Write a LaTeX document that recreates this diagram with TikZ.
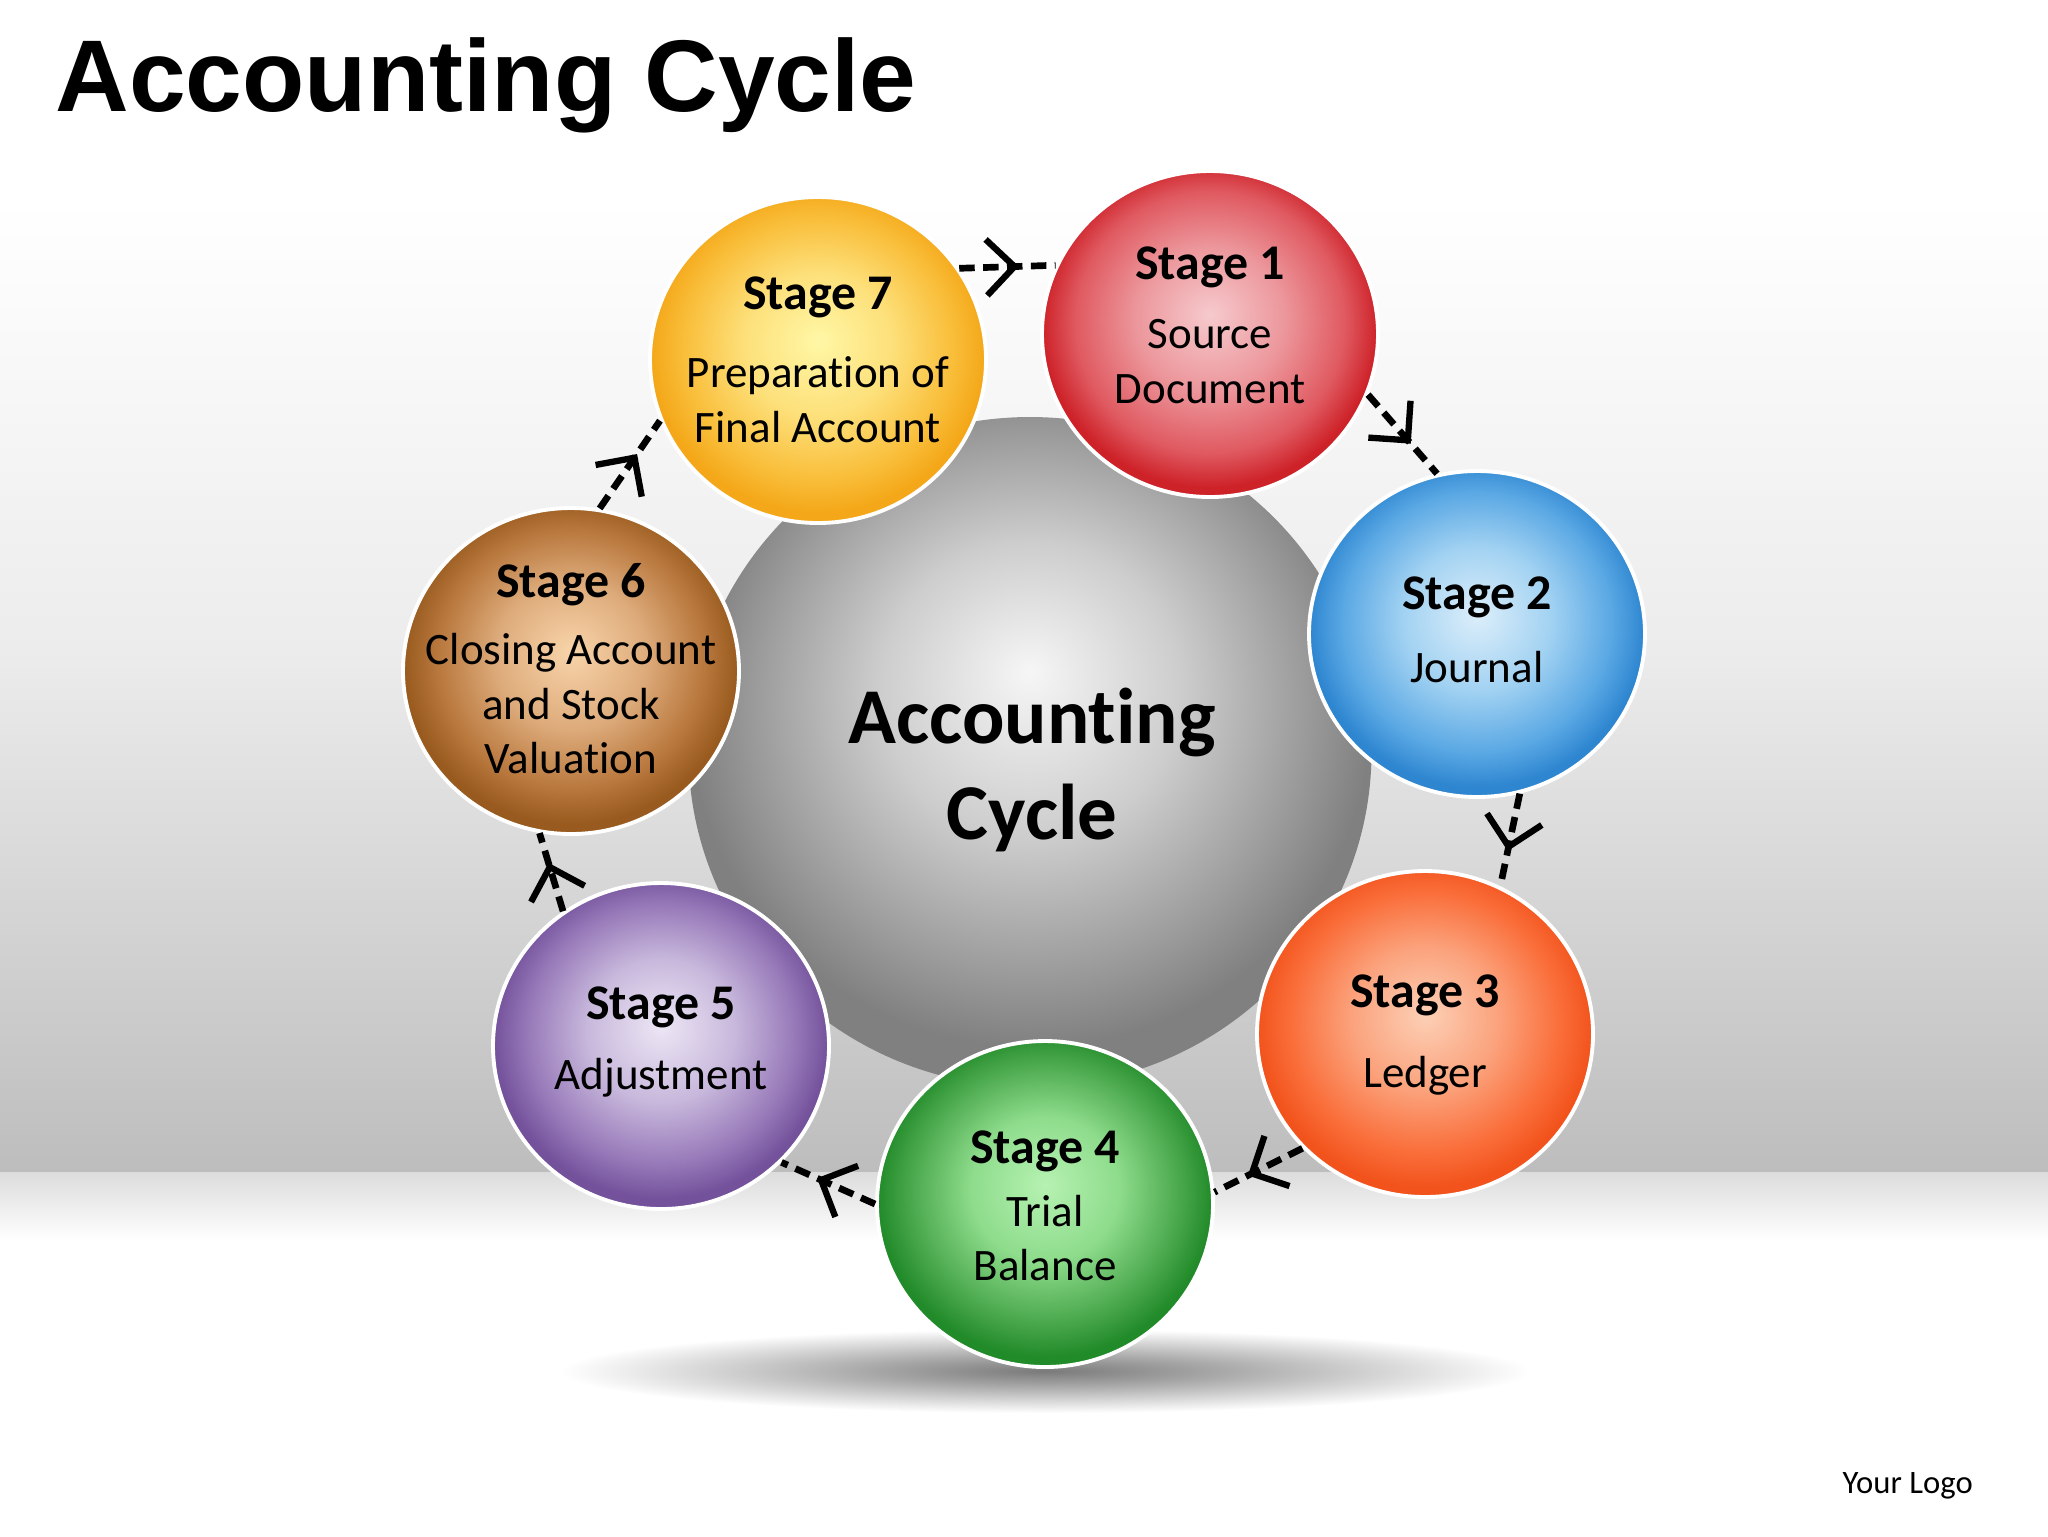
\documentclass[tikz,border=0pt]{standalone}
\usepackage{fontspec}
\setmainfont{Carlito}[Ligatures=NoCommon]
\newfontfamily\titlefont{Liberation Sans}
\usetikzlibrary{arrows.meta,decorations.markings,shapes.geometric}

\definecolor{bgmid}{HTML}{ECECEC}
\definecolor{bgdark}{HTML}{BDBDBD}
\definecolor{bgfloor}{HTML}{DCDCDC}
% ball colours
\definecolor{rA}{HTML}{F6CACD}\definecolor{rB}{HTML}{EC979C}\definecolor{rC}{HTML}{E05A61}\definecolor{rD}{HTML}{CE2229}
\definecolor{bA}{HTML}{DCEEFA}\definecolor{bB}{HTML}{A2D2F2}\definecolor{bC}{HTML}{5AA8E4}\definecolor{bD}{HTML}{2E86D0}
\definecolor{oA}{HTML}{FCD0B6}\definecolor{oB}{HTML}{FBA27C}\definecolor{oC}{HTML}{FA6E3A}\definecolor{oD}{HTML}{F2531C}
\definecolor{gA}{HTML}{B6F2B2}\definecolor{gB}{HTML}{8EDC8C}\definecolor{gC}{HTML}{4AA84C}\definecolor{gD}{HTML}{218A29}
\definecolor{pA}{HTML}{ECE6F4}\definecolor{pB}{HTML}{C8B8DC}\definecolor{pC}{HTML}{9678B8}\definecolor{pD}{HTML}{73519B}
\definecolor{nA}{HTML}{F8D4AA}\definecolor{nB}{HTML}{DEAC7C}\definecolor{nC}{HTML}{B8773C}\definecolor{nD}{HTML}{985A1E}
\definecolor{yA}{HTML}{FFF7A6}\definecolor{yB}{HTML}{FDE07A}\definecolor{yC}{HTML}{F9BE3A}\definecolor{yD}{HTML}{F4A718}
\definecolor{kA}{HTML}{F6F6F6}\definecolor{kB}{HTML}{CDCDCD}\definecolor{kC}{HTML}{9C9C9C}\definecolor{kD}{HTML}{808080}
\definecolor{shA}{HTML}{7A7A7A}\definecolor{shB}{HTML}{A8A8A8}

\newcommand\mkball[6]{\pgfdeclareradialshading{#1}{\pgfpoint{0bp}{#6}}{color(0bp)=(#2); color(11bp)=(#3); color(20bp)=(#4); color(25bp)=(#5); color(50bp)=(#5)}}
\mkball{ballred}{rA}{rB}{rC}{rD}{3bp}
\mkball{ballblue}{bA}{bB}{bC}{bD}{3bp}
\mkball{ballorange}{oA}{oB}{oC}{oD}{3bp}
\mkball{ballgreen}{gA}{gB}{gC}{gD}{3bp}
\mkball{ballpurple}{pA}{pB}{pC}{pD}{3bp}
\mkball{ballbrown}{nA}{nB}{nC}{nD}{3bp}
\mkball{ballyellow}{yA}{yB}{yC}{yD}{3bp}
\mkball{ballgray}{kA}{kB}{kC}{kD}{6bp}
\pgfdeclareradialshading{shadowsh}{\pgfpoint{0bp}{0bp}}{color(0bp)=(shA); color(9bp)=(shB); color(25bp)=(white); color(50bp)=(white)}

\newcommand\stg[1]{{\bfseries\fontsize{14.2}{15.6}\selectfont #1}}

\tikzset{
  ball/.style={ellipse, minimum width=3.36cm, minimum height=3.26cm, inner sep=0pt,
    draw=white, line width=1.1pt, shade},
  stagetext/.style={align=center, inner sep=0pt, font=\fontsize{12.8}{15.6}\selectfont},
  conn/.style={draw=black, line width=1.9pt, dash pattern=on 4.4pt off 2.4pt,
    postaction={decorate},
    decoration={markings, mark=at position 0.62 with {\arrow{Straight Barb[length=2.8mm,width=5.6mm,line width=1.8pt]}}}},
}

\begin{document}
\begin{tikzpicture}[x=0.1mm, y=-0.1mm]
\useasboundingbox (0,0) rectangle (2048,1536);
% background
\fill[white] (0,0) rectangle (2048,1536);
\shade[top color=white, bottom color=bgmid] (0,200) rectangle (2048,650);
\shade[top color=bgmid, bottom color=bgdark] (0,650) rectangle (2048,1172);
\shade[top color=bgfloor, bottom color=white] (0,1172) rectangle (2048,1240);
\shade[shading=shadowsh] (1045,1371) ellipse (485 and 42);

% title
\node[anchor=base west, inner sep=0pt, font=\titlefont\bfseries\fontsize{29}{34}\selectfont] (title) at (55,111) {Accounting Cycle};

% core
\node[ellipse, minimum width=6.83cm, minimum height=6.7cm, inner sep=0pt, shade, shading=ballgray] (core) at (1030,752) {};
\node[align=center, font=\bfseries\fontsize{22.5}{27.1}\selectfont] (ctext) at (1032,770) {Accounting\\Cycle};

% stages
\node[ball, shading=ballyellow] (s7) at (818,360) {};
\node[ball, shading=ballred] (s1) at (1210,334) {};
\node[ball, shading=ballblue] (s2) at (1477,634) {};
\node[ball, shading=ballorange] (s3) at (1425,1034) {};
\node[ball, shading=ballgreen] (s4) at (1045,1204) {};
\node[ball, shading=ballpurple] (s5) at (661,1046) {};
\node[ball, shading=ballbrown] (s6) at (571,671) {};

\node[stagetext] (t7) at (818,360) {\stg{Stage 7}\\[6.7pt]Preparation of\\Final Account};
\node[stagetext] (t1) at (1210,325) {\stg{Stage 1}\\[4.1pt]Source\\Document};
\node[stagetext] (t2) at (1477,630) {\stg{Stage 2}\\[5.2pt]Journal};
\node[stagetext] (t3) at (1425,1035) {\stg{Stage 3}\\[7.4pt]Ledger};
\node[stagetext] (t4) at (1045,1206) {\stg{Stage 4}\\[2.2pt]Trial\\Balance};
\node[stagetext] (t5) at (661,1042) {\stg{Stage 5}\\[4.1pt]Adjustment};
\node[stagetext] (t6) at (571,669) {\stg{Stage 6}\\[3.3pt]Closing Account\\and Stock\\Valuation};

% connectors
\draw[conn] (s7.33) -- (s1.156);
\draw[conn] (s1.-21) -- (s2.104);
\draw[conn] (s2.-75) -- (s3.63);
\draw[conn] (s3.-137) -- (s4.4);
\draw[conn] (s4.180) -- (s5.-44);
\draw[conn] (s5.126) -- (s6.-101);
\draw[conn] (s6.80) -- (s7.201);

% logo
\node[anchor=base west, inner sep=0pt, font=\fontsize{9.3}{11}\selectfont] (logo) at (1842,1493) {Your Logo};
\end{tikzpicture}
\end{document}
